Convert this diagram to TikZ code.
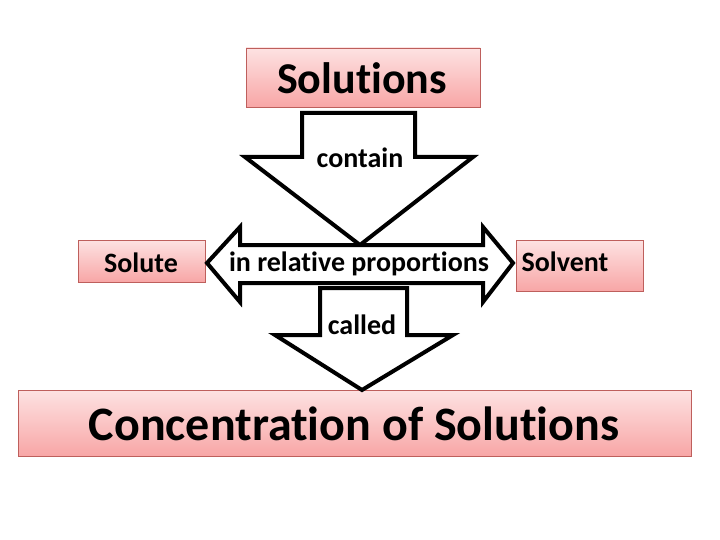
\documentclass[tikz,border=0pt]{standalone}
\usepackage{fontspec}
\setmainfont{Carlito}[Ligatures={NoCommon}]
\definecolor{boxedge}{RGB}{190,95,92}
\definecolor{boxtop}{RGB}{253,226,226}
\definecolor{boxbot}{RGB}{248,166,166}
\tikzset{
  pinkbox/.style={draw=boxedge, line width=0.7pt, top color=boxtop, bottom color=boxbot, inner sep=0pt},
  blockarrow/.style={draw=black, fill=white, line width=4pt, line join=miter},
  smalltext/.style={font=\fontsize{28}{30}\selectfont\bfseries, inner sep=0pt},
}
\begin{document}
\begin{tikzpicture}[x=1pt,y=-1pt]
\useasboundingbox (0,0) rectangle (720,540);
% boxes
\path[pinkbox] (246,48) rectangle (480,107);
\node[font=\fontsize{44}{46}\selectfont\bfseries, inner sep=0pt] (sol) at (362,78) {Solutions};
\path[pinkbox] (78,240) rectangle (205,282);
\node[smalltext] (solute) at (141,263) {Solute};
\path[pinkbox] (516,240) rectangle (643,291);
\node[smalltext] (solvent) at (565,262) {Solvent};
\path[pinkbox] (18,390) rectangle (691,456);
\node[font=\fontsize{48}{50}\selectfont\bfseries, inner sep=0pt] (conc) at (354,424) {Concentration of Solutions};
% down arrow 1
\draw[blockarrow] (302,113) -- (415,113) -- (415,157) -- (473,157) -- (360,245) -- (245,157) -- (302,157) -- cycle;
\node[smalltext] (contain) at (360,158) {contain};
% double arrow
\draw[blockarrow] (207,263) -- (240,227) -- (240,245) -- (483,245) -- (483,227) -- (513,263) -- (483,302) -- (483,283) -- (240,283) -- (240,302) -- cycle;
\node[smalltext] (rel) at (359,264) {in relative proportions};
% down arrow 2
\draw[blockarrow] (320,288) -- (407,288) -- (407,335) -- (453,335) -- (362,390) -- (275,335) -- (320,335) -- cycle;
\node[smalltext] (called) at (362,325) {called};
\end{tikzpicture}
\end{document}
